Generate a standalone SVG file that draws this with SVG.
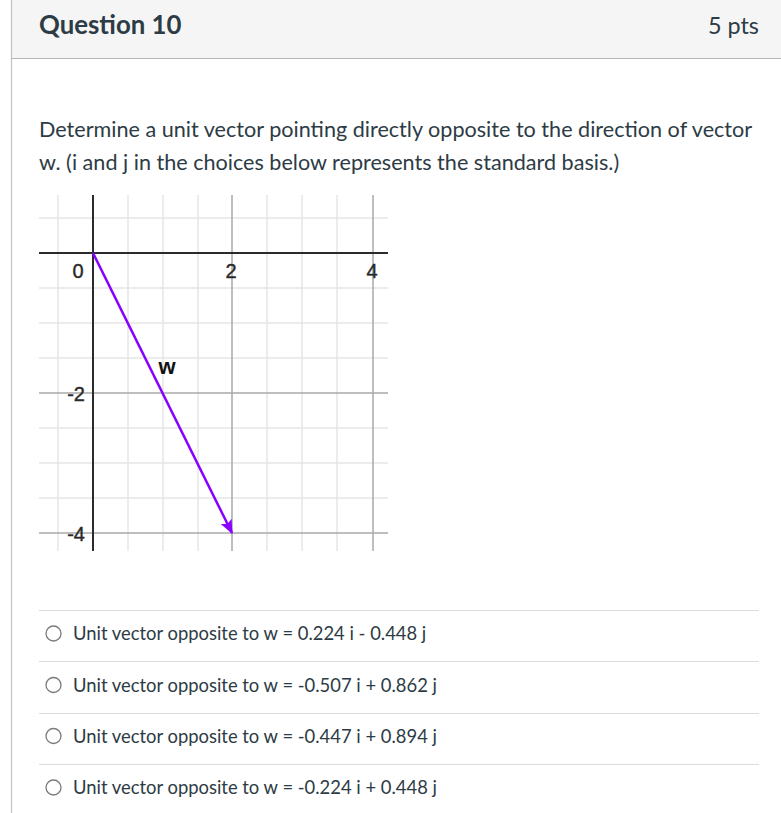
<svg xmlns="http://www.w3.org/2000/svg" width="781" height="813" viewBox="0 0 781 813">
<defs>
<style>
.txt{font-family:Lato,"Noto Sans",sans-serif;fill:#2d3b45}
.minor{stroke:#e6e6e6;stroke-width:1.5}
.major{stroke:#a8a8a8;stroke-width:1.5}
.axis{stroke:#2b2b2b;stroke-width:2}
.lbl{font-family:"Liberation Sans",Arial,sans-serif;font-size:20px;fill:#2a2a2a;stroke:#2a2a2a;stroke-width:0.4}
.sep{stroke:#dcdcdc;stroke-width:1}
.radio{fill:#fff;stroke:#7b7b7b;stroke-width:1.3}
.ans{font-family:Lato,"Noto Sans",sans-serif;font-size:18.4px;fill:#2d3b45}
</style>
<marker id="ah" viewBox="0 0 14 12" refX="13" refY="6" markerWidth="14" markerHeight="12" markerUnits="userSpaceOnUse" orient="auto">
<path d="M0,0 L14,6 L0,12 L3,6 Z" fill="#8a00ff"/>
</marker>
</defs>
<rect width="781" height="813" fill="#fff"/>
<g id="header">
<rect x="11" y="0" width="770" height="58" fill="#f5f5f5"/>
<line x1="11" y1="58.5" x2="781" y2="58.5" stroke="#b5b5b5" stroke-width="1.2"/>
<text class="txt" x="39" y="34" font-size="25.8" font-weight="bold">Question 10</text>
<text class="txt" x="759" y="34" font-size="23.4" text-anchor="end">5 pts</text>
</g>
<line x1="11.5" y1="0" x2="11.5" y2="813" stroke="#c2c2c2" stroke-width="1.2"/>
<g id="question">
<text class="txt" x="39" y="137" font-size="21.6">Determine a unit vector pointing directly opposite to the direction of vector</text>
<text class="txt" x="39" y="170" font-size="21.6">w. (i and j in the choices below represents the standard basis.)</text>
</g>
<g id="graph">
<g class="minor">
<line x1="58" y1="195" x2="58" y2="551"/>
<line x1="128" y1="195" x2="128" y2="551"/>
<line x1="163" y1="195" x2="163" y2="551"/>
<line x1="198" y1="195" x2="198" y2="551"/>
<line x1="267" y1="195" x2="267" y2="551"/>
<line x1="302" y1="195" x2="302" y2="551"/>
<line x1="337" y1="195" x2="337" y2="551"/>
<line x1="39" y1="218" x2="388" y2="218"/>
<line x1="39" y1="288" x2="388" y2="288"/>
<line x1="39" y1="323" x2="388" y2="323"/>
<line x1="39" y1="358" x2="388" y2="358"/>
<line x1="39" y1="428" x2="388" y2="428"/>
<line x1="39" y1="463" x2="388" y2="463"/>
<line x1="39" y1="498" x2="388" y2="498"/>
</g>
<g class="major">
<line x1="232" y1="195" x2="232" y2="551"/>
<line x1="373" y1="195" x2="373" y2="551"/>
<line x1="39" y1="393" x2="388" y2="393"/>
<line x1="39" y1="533" x2="388" y2="533"/>
</g>
<g class="axis">
<line x1="93" y1="195" x2="93" y2="551"/>
<line x1="39" y1="253" x2="388" y2="253"/>
</g>
<text class="lbl" x="78" y="278" text-anchor="middle">0</text>
<text class="lbl" x="231" y="278" text-anchor="middle">2</text>
<text class="lbl" x="372" y="278" text-anchor="middle">4</text>
<text class="lbl" x="85" y="401" text-anchor="end">-2</text>
<text class="lbl" x="85" y="541" text-anchor="end">-4</text>
<g id="connectors">
<line x1="93" y1="253" x2="232" y2="533" stroke="#8a00ff" stroke-width="2.5" marker-end="url(#ah)"/>
</g>
<text x="167" y="374" text-anchor="middle" font-family="Liberation Sans,Arial,sans-serif" font-weight="bold" font-size="22" fill="#111">w</text>
</g>
<g id="choices">
<line class="sep" x1="39" y1="610.5" x2="759" y2="610.5"/>
<line class="sep" x1="39" y1="661.5" x2="759" y2="661.5"/>
<line class="sep" x1="39" y1="713.5" x2="759" y2="713.5"/>
<line class="sep" x1="39" y1="764.5" x2="759" y2="764.5"/>
<g id="choice1"><circle class="radio" cx="53.5" cy="633.5" r="7.5"/><text class="ans" x="73" y="640">Unit vector opposite to w = 0.224 i - 0.448 j</text></g>
<g id="choice2"><circle class="radio" cx="53.5" cy="685" r="7.5"/><text class="ans" x="73" y="691.5">Unit vector opposite to w = -0.507 i + 0.862 j</text></g>
<g id="choice3"><circle class="radio" cx="53.5" cy="736" r="7.5"/><text class="ans" x="73" y="742.5">Unit vector opposite to w = -0.447 i + 0.894 j</text></g>
<g id="choice4"><circle class="radio" cx="53.5" cy="787.5" r="7.5"/><text class="ans" x="73" y="794">Unit vector opposite to w = -0.224 i + 0.448 j</text></g>
</g>
</svg>
